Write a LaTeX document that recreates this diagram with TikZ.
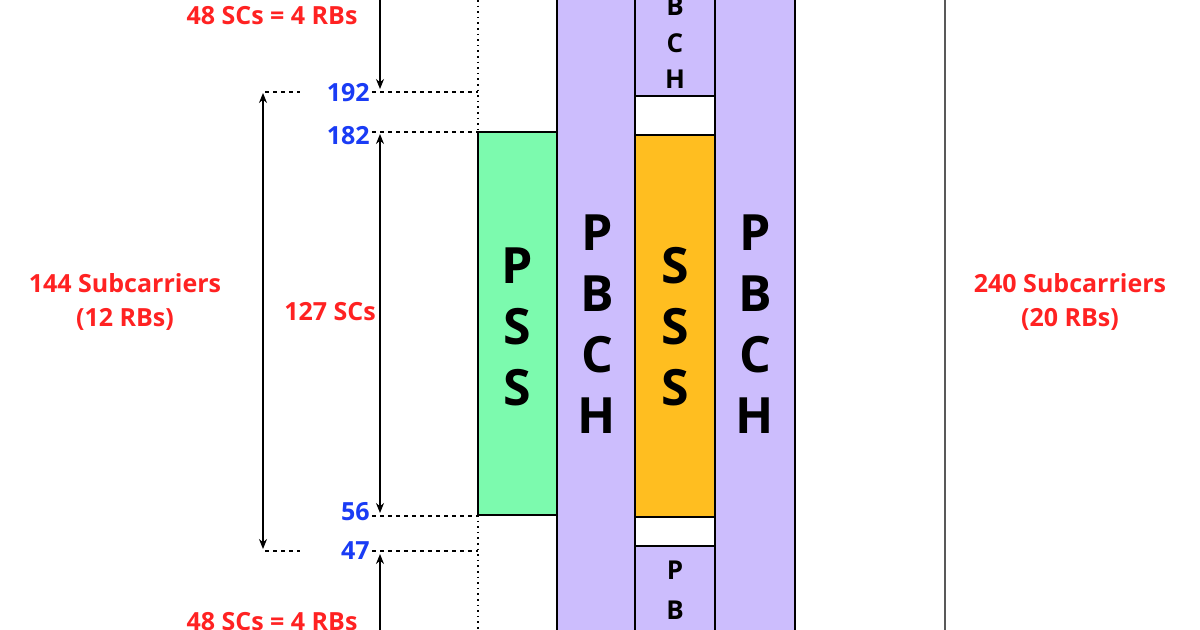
\documentclass[tikz,border=0pt]{standalone}
\usepackage{fontspec}
\setmainfont{Open Sans}
\usetikzlibrary{arrows.meta}
\definecolor{pur}{HTML}{CCBDFD}
\definecolor{grn}{HTML}{7CFAAE}
\definecolor{org}{HTML}{FFBE20}
\definecolor{rd}{HTML}{FF2222}
\definecolor{bl}{HTML}{1A3CF5}
\tikzset{
  blk/.style={draw=black,line width=1.2pt},
  big/.style={font=\fontsize{25}{30.5}\selectfont\bfseries,align=center,inner sep=0},
  mid/.style={font=\fontsize{13}{17}\selectfont\bfseries,inner sep=0},
  lab/.style={font=\fontsize{12.5}{17}\selectfont\bfseries,text=rd,align=center,inner sep=1pt},
  num/.style={font=\fontsize{12.5}{15}\selectfont\bfseries,text=bl,inner sep=0},
  dsh/.style={dash pattern=on 2pt off 2pt,line width=1pt},
  dot/.style={dotted,line width=0.8pt},
  arr/.style={-{Stealth[length=5pt,width=4pt]},line width=0.6pt},
  darr/.style={{Stealth[length=5pt,width=4pt]}-{Stealth[length=5pt,width=4pt]},line width=0.6pt}
}
\begin{document}
\begin{tikzpicture}[x=0.5pt,y=-0.5pt]
\useasboundingbox (0,0) rectangle (1200,630);
\fill[white] (0,0) rectangle (1200,630);
% right line
\draw[line width=0.8pt,gray!70!black] (945,0) -- (945,630);
% pbch outer
\fill[pur] (557,-5) rectangle (795,635);
\draw[blk] (557,-5) -- (557,635) (795,-5) -- (795,635);
% middle column
\fill[white] (635,96) rectangle (715,546);
\filldraw[blk,fill=org] (635,135) rectangle (715,517);
\draw[blk] (635,-5) -- (635,635) (715,-5) -- (715,635);
\draw[blk] (635,96) -- (715,96) (635,546) -- (715,546);
% PSS
\filldraw[blk,fill=grn] (478,132) rectangle (557,515);
% dotted vertical
\draw[dot] (478,0) -- (478,132) (478,515) -- (478,630);
% labels big
\node[big] (pss) at (517,327) {P\\S\\S};
\node[big] (pbch1) at (597,324) {P\\B\\C\\H};
\node[big] (sss) at (675,327) {S\\S\\S};
\node[big] (pbch2) at (755,324) {P\\B\\C\\H};
\node[mid] (tb) at (675,6) {B};
\node[mid] (tc) at (675,43) {C};
\node[mid] (th) at (675,79) {H};
\node[mid] (bp) at (675,570) {P};
\node[mid] (bb) at (675,610) {B};
% numbers
\node[num,anchor=east] (n192) at (370,93) {192};
\node[num,anchor=east] (n182) at (370,136) {182};
\node[num,anchor=east] (n56) at (370,512) {56};
\node[num,anchor=east] (n47) at (370,551) {47};
% dashed lines
\draw[dsh] (265,92) -- (300,92) (372,92) -- (478,92);
\draw[dsh] (372,132) -- (557,132);
\draw[dsh] (372,516) -- (478,516);
\draw[dsh] (265,551) -- (300,551) (372,551) -- (478,551);
% arrows
\coordinate (a1) at (380,0); \coordinate (a2) at (380,89);
\draw[arr] (a1) -- (a2);
\coordinate (b1) at (380,134); \coordinate (b2) at (380,513);
\draw[darr] (b1) -- (b2);
\coordinate (c1) at (263,93); \coordinate (c2) at (263,549);
\draw[darr] (c1) -- (c2);
\coordinate (d1) at (380,630); \coordinate (d2) at (380,554);
\draw[arr] (d1) -- (d2);
% red labels
\node[lab] (t48) at (272,16) {48 SCs = 4 RBs};
\node[lab] (b48) at (272,622) {48 SCs = 4 RBs};
\node[lab] (l144) at (125,302) {144 Subcarriers\\(12 RBs)};
\node[lab,fill=white] (l127) at (330,312) {127 SCs};
\node[lab] (l240) at (1070,302) {240 Subcarriers\\(20 RBs)};
\end{tikzpicture}
\end{document}
